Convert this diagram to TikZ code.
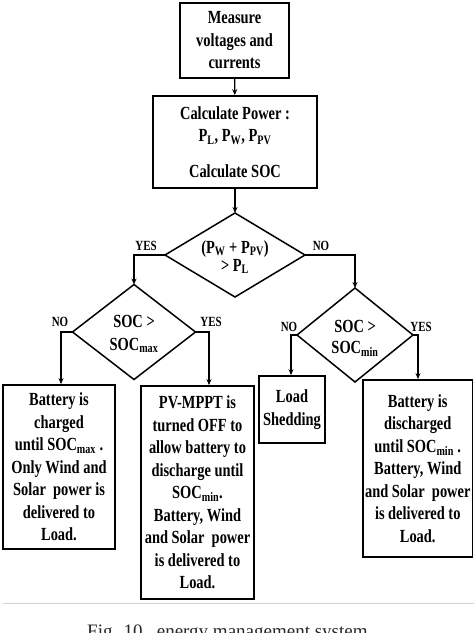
\documentclass[tikz,border=0pt]{standalone}
\usepackage{fontspec}
\setmainfont{Liberation Serif}
\newfontfamily\fc[FakeStretch=0.78]{Liberation Serif}
\usetikzlibrary{shapes.geometric,arrows.meta}
\newcommand\sbx[1]{\textsubscript{#1}}
\begin{document}
\begin{tikzpicture}[x=1pt,y=-1pt,
  box/.style={draw, line width=1.8pt, inner sep=0pt, align=center,
    font=\fc\bfseries\fontsize{18.5}{22.5}\selectfont},
  dia/.style={draw, diamond, line width=1.5pt, inner sep=0pt, outer sep=0pt},
  dtxt/.style={align=center, inner sep=0pt, font=\fc\bfseries\fontsize{18.5}{21}\selectfont},
  lab/.style={inner sep=0pt, font=\fc\bfseries\fontsize{14}{15}\selectfont},
  arr/.style={line width=1.4pt, -{Stealth[length=6pt,width=5pt]}}]
\fill[white] (0,0) rectangle (474,633);
\useasboundingbox (0,0) rectangle (474,633);

% process boxes
\node[box, minimum width=109pt, minimum height=75pt] (m) at (234.5,40.5)
  {Measure\\voltages and\\currents};
\node[box, minimum width=164pt, minimum height=92pt] (c) at (235,142)
  {Calculate Power :\\P\sbx{L}, P\sbx{W}, P\sbx{PV}\\[13pt]Calculate SOC};

% decisions
\node[dia, minimum width=140pt, minimum height=84pt] (d1) at (235,255) {};
\node[dtxt, font=\fc\bfseries\fontsize{18.5}{18}\selectfont] (d1t) at (235,257)
  {(P\sbx{W} + P\sbx{PV})\\> P\sbx{L}};
\node[dia, minimum width=123pt, minimum height=95pt] (d2) at (134,332) {};
\node[dtxt, font=\fc\bfseries\fontsize{18.5}{23}\selectfont] (d2t) at (134,334)
  {SOC >\\SOC\sbx{max}};
\node[dia, minimum width=116pt, minimum height=94pt] (d3) at (355,335) {};
\node[dtxt] (d3t) at (355,338) {SOC >\\SOC\sbx{min}};

% result boxes
\node[box, minimum width=112pt, minimum height=164pt] (b3) at (59,467)
  {Battery is\\charged\\until SOC\sbx{max} .\\Only Wind and\\Solar\ \ power is\\delivered to\\Load.};
\node[box, minimum width=113pt, minimum height=213pt] (b4) at (197.5,492.5)
  {PV-MPPT is\\turned OFF to\\allow battery to\\discharge until\\SOC\sbx{min}.\\Battery, Wind\\and Solar\ \ power\\is delivered to\\Load.};
\node[box, minimum width=66pt, minimum height=67pt] (b5) at (292,409.5)
  {Load\\Shedding};
\node[box, minimum width=109.5pt, minimum height=177pt] (b6) at (417.75,468.5)
  {Battery is\\discharged\\until SOC\sbx{min} .\\Battery, Wind\\and Solar\ \ power\\is delivered to\\Load.};

% connectors
\draw[arr] (m) -- (c);
\draw[arr] (c) -- (d1);
\draw[arr] (d1.west) -| (d2.north);
\draw[arr] (d1.east) -| (d3.north);
\draw[arr] (d2.west) -| ([xshift=2pt]b3.north);
\draw[arr] (d2.east) -| ([xshift=11.5pt]b4.north);
\draw[arr] (d3.west) -| ([xshift=-1pt]b5.north);
\draw[arr] (d3.east) -| ([xshift=0.25pt]b6.north);

% branch labels
\node[lab] (l1) at (146,246) {YES};
\node[lab] (l2) at (321,246) {NO};
\node[lab] (l3) at (60,322) {NO};
\node[lab] (l4) at (211,322) {YES};
\node[lab] (l5) at (289,327) {NO};
\node[lab] (l6) at (421,327) {YES};

% caption
\draw[gray!35, line width=1pt] (3,603) -- (474,603);
\node[anchor=base west, inner sep=0pt, font=\fontsize{19}{20}\selectfont, text=black!85] (cap) at (87,637)
  {Fig. 10.\ \ energy management system};
\end{tikzpicture}
\end{document}
